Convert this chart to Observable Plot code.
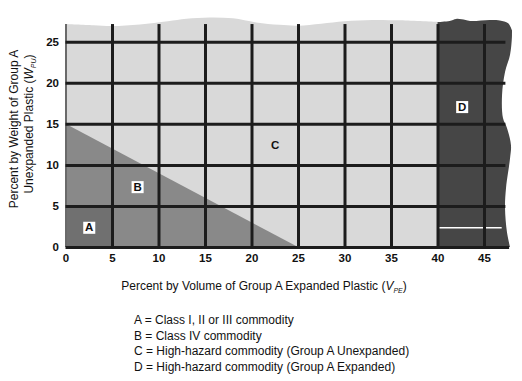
<!DOCTYPE html>
<html><head><meta charset="utf-8">
<script src="https://cdn.jsdelivr.net/npm/d3@7"></script>
<script src="https://cdn.jsdelivr.net/npm/@observablehq/plot@0.6"></script>
<style>
body{margin:0;background:#fff;font-family:"Liberation Sans",Arial,sans-serif;}
#chart svg{display:block;}
#legend{margin:13px 0 0 134px;font-size:12px;line-height:15.5px;color:#111;}
</style></head><body>
<div id="chart"></div>
<div id="legend"></div>
<script>
const xTicks=[0,5,10,15,20,25,30,35,40,45];
const yTicks=[0,5,10,15,20,25];
// Region C top edge (wavy break line)
const waveX=[0,3,5,8,11,13,15.5,18,20.5,23,25,27.5,30,33,36,40];
const waveY=[27.15,27.0,26.9,27.1,27.5,27.8,27.95,27.85,27.35,27.05,26.95,27.2,27.5,27.65,27.6,27.4];
// Region D top edge
const dTopX=[40,41.3,42,42.6,43.5,45.6,46.7,47.6,48];
const dTopY=[27.4,27.53,27.77,27.73,27.53,27.65,27.59,27.25,26.4];
// Region D right edge
const dEdgeY=[0,1.8,4.75,7.2,10.8,12.4,14.5,15.7,18.5,21.3,23.4,25.5,26.4];
const dEdgeX=[47.8,47.47,47.26,47.37,47.8,47.9,47.47,47.04,46.94,47.26,47.8,48.0,48.0];
// Region B triangle
const bX=[0,25];
const bY=[15,0];
// Region A square
const aX=[0,5];
const aY=[0,5];
// Region labels
const regionNames=["A","B","C","D"];
const labelX=[2.5,7.7,22.5,42.6];
const labelY=[2.4,7.35,12.4,17.1];
const labelBoxed=[true,true,false,true];
// white line inside D
const whiteLineY=[2.4];
const whiteLineX=[40.1,46.9];
const legendLines=[
  "A = Class I, II or III commodity",
  "B = Class IV commodity",
  "C = High-hazard commodity (Group A Unexpanded)",
  "D = High-hazard commodity (Group A Expanded)"
];

const wave=waveX.map((x,i)=>({x,y:waveY[i]}));
const dTop=dTopX.map((x,i)=>({x,y:dTopY[i]}));
const dEdge=dEdgeY.map((y,i)=>({y,x:dEdgeX[i]}));
const bData=bX.map((x,i)=>({x,y:bY[i]}));
const labels=regionNames.map((t,i)=>({t,x:labelX[i],y:labelY[i],boxed:labelBoxed[i]}));
const gridTop=27.15;
const lineColor="#1c1c1c";

const plot=Plot.plot({
  width:522,height:300,
  marginLeft:65.5,marginRight:38,marginTop:41.7,marginBottom:53,
  style:{fontFamily:"'Liberation Sans',Arial,sans-serif",background:"white"},
  x:{domain:[0,45]},
  y:{domain:[0,25]},
  marks:[
    Plot.areaY(wave,{x:"x",y1:0,y2:"y",fill:"#d9d9d9",curve:"catmull-rom"}),
    Plot.areaX(dEdge,{y:"y",x1:40,x2:"x",fill:"#464646",curve:"catmull-rom"}),
    Plot.areaY(dTop,{x:"x",y1:26,y2:"y",fill:"#464646",curve:"catmull-rom"}),
    Plot.areaY(bData,{x:"x",y1:0,y2:"y",fill:"#898989"}),
    Plot.rect([0],{x1:aX[0],x2:aX[1],y1:aY[0],y2:aY[1],fill:"#707070"}),
    Plot.ruleY(whiteLineY,{x1:whiteLineX[0],x2:whiteLineX[1],stroke:"white",strokeWidth:1.5}),
    Plot.ruleX(xTicks.filter(d=>d>0),{y1:0,y2:gridTop,stroke:lineColor,strokeWidth:3}),
    Plot.ruleX([0],{y1:0,y2:gridTop,stroke:"#6a6a6a",strokeWidth:2}),
    Plot.ruleY(yTicks.filter(d=>d>0),{x1:0,x2:47.3,stroke:lineColor,strokeWidth:3}),
    Plot.ruleY([0],{x1:0,x2:47.7,stroke:lineColor,strokeWidth:3}),
    Plot.dot(labels.filter(d=>d.boxed),{x:"x",y:"y",symbol:"square",r:6.8,fill:"white"}),
    Plot.text(labels,{x:"x",y:"y",text:"t",fontWeight:"bold",fontSize:11.5,fill:"#111"}),
    Plot.axisX({ticks:xTicks,tickSize:0,tickPadding:6,fontSize:11.5,fontWeight:"bold",label:null,fill:"#111"}),
    Plot.axisY({ticks:yTicks,tickSize:0,tickPadding:7,fontSize:11.5,fontWeight:"bold",label:null,fill:"#111"})
  ]
});

const svg=d3.select(plot);
const ff="'Liberation Sans',Arial,sans-serif";
// y title line 1
svg.append("text").attr("transform","translate(14,129) rotate(-90)")
  .attr("text-anchor","middle").attr("dy","0.35em").attr("font-size",12)
  .attr("font-family",ff).attr("fill","#111").text("Percent by Weight of Group A");
// y title line 2
const t2=svg.append("text").attr("transform","translate(29,124) rotate(-90)")
  .attr("text-anchor","middle").attr("dy","0.35em").attr("font-size",12)
  .attr("font-family",ff).attr("fill","#111");
t2.append("tspan").text("Unexpanded Plastic (");
t2.append("tspan").attr("font-style","italic").text("W");
t2.append("tspan").attr("font-style","italic").attr("font-size",7).attr("dy",3).text("PU");
t2.append("tspan").attr("dy",-3).text(")");
// x title
const tx=svg.append("text").attr("x",264).attr("y",290)
  .attr("text-anchor","middle").attr("font-size",12)
  .attr("font-family",ff).attr("fill","#111");
tx.append("tspan").text("Percent by Volume of Group A Expanded Plastic (");
tx.append("tspan").attr("font-style","italic").text("V");
tx.append("tspan").attr("font-style","italic").attr("font-size",7).attr("dy",3).text("PE");
tx.append("tspan").attr("dy",-3).text(")");

document.getElementById("chart").appendChild(plot);
d3.select("#legend").selectAll("div").data(legendLines).join("div").text(d=>d);
</script>
</body></html>
